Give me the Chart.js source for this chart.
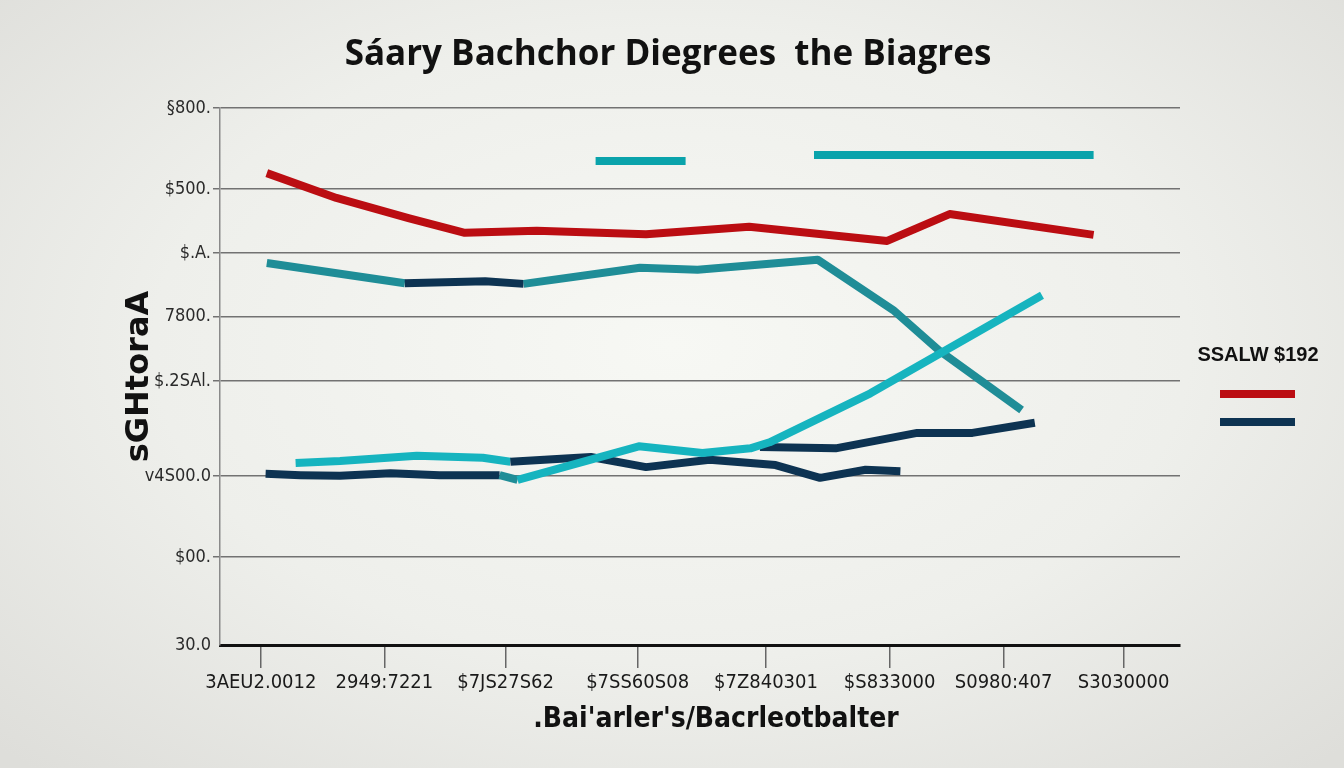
<!DOCTYPE html>
<html>
<head>
<meta charset="utf-8">
<script src="https://cdn.jsdelivr.net/npm/chart.js@4.4.1/dist/chart.umd.min.js"></script>
<style>
  html, body { margin: 0; padding: 0; }
  body {
    width: 1344px; height: 768px; overflow: hidden;
    background: radial-gradient(ellipse 70% 75% at 50% 45%, #f7f8f4 0%, #eeefeb 55%, #dededa 100%);
  }
  #wrap { position: relative; width: 1344px; height: 768px; }
</style>
</head>
<body>
<div id="wrap"><canvas id="c"></canvas></div>
<script>
// ---- Tick positions and labels ----
const xTickPos = [0.34, 1.37, 2.38, 3.48, 4.55, 5.58, 6.53, 7.53];
const xTickLabels = ["3AEU2.0012", "2949:7221", "$7JS27S62", "$7SS60S08", "$7Z840301", "$S833000", "S0980:407", "S3030000"];
const yTickVals = [0, 131, 252, 393, 489, 584, 679, 800];
const yTickLabels = ["30.0", "$00.", "v4S00.0", "$.2SAl.", "7800.", "$.A.", "$500.", "§800."];

// ---- Series ----
const redX = [0.39, 0.97, 1.57, 2.04, 2.64, 3.55, 4.41, 5.56, 6.08, 7.28];
const redY = [703, 666, 636, 614, 617, 612, 623, 602, 642, 611];

const tealX = [0.39, 1.54, 2.21, 2.53, 3.50, 3.98, 4.98, 5.61, 5.99, 6.68];
const tealY = [569, 539, 542, 538, 562, 559, 574, 499, 439, 350];

const barX = [3.13, 3.88, 4.40, 4.95, 7.28];
const barY = [721, 721, null, 730, 730];

const riseX = [0.38, 0.67, 1.00, 1.42, 1.83, 2.33, 2.48, 3.49, 4.02, 4.42, 4.58, 5.42, 6.85];
const riseY = [255, 253, 252, 256, 253, 253, 246, 296, 286, 293, 302, 375, 521];

const lowX = [0.63, 1.00, 1.64, 2.19, 2.42, 3.09, 3.55, 4.08, 4.63, 5.00, 5.38, 5.67];
const lowY = [271, 274, 282, 279, 273, 280, 265, 276, 268, 249, 261, 259];

const navyX = [4.50, 5.13, 5.81, 6.27, 6.79];
const navyY = [295, 293, 316, 316, 331];

const legendTitle = "SSALW $192";

// ---- Styling ----
const RED = '#bb0d12', TEAL = '#1f8d97', CYAN = '#16b4bf', NAVY = '#0d3352', BAR = '#0aa3ab';
const pts = (xs, ys) => xs.map((x, i) => ({ x, y: ys[i] }));
const lineBase = { borderWidth: 8, pointRadius: 0, tension: 0, borderCapStyle: 'butt', borderJoinStyle: 'round', fill: false, spanGaps: false };

const legendPlugin = {
  id: 'sideLegend',
  afterLayout(chart) {
    // shift the title block slightly right, as in the reference
    const t = chart.titleBlock;
    if (t) { t.left += 33; t.right += 33; }
    // shift the x-axis title slightly right as well
    const sx = chart.scales.x;
    if (sx && !sx._titleShifted) {
      const orig = sx.drawTitle;
      sx.drawTitle = function () {
        const l = this.left, r = this.right;
        this.left += 16; this.right += 16;
        orig.call(this);
        this.left = l; this.right = r;
      };
      sx._titleShifted = true;
    }
  },
  afterDraw(chart) {
    const { ctx, chartArea } = chart;
    const cx = chartArea.right + 78;
    ctx.save();
    ctx.fillStyle = '#111';
    ctx.font = 'bold 20px "Liberation Sans", Arial, sans-serif';
    ctx.textAlign = 'center';
    ctx.textBaseline = 'middle';
    ctx.fillText(legendTitle, cx, 355);
    ctx.lineWidth = 8;
    ctx.lineCap = 'butt';
    [[RED, 394], [NAVY, 422]].forEach(([c, y]) => {
      ctx.strokeStyle = c;
      ctx.beginPath();
      ctx.moveTo(cx - 38, y);
      ctx.lineTo(cx + 37, y);
      ctx.stroke();
    });
    ctx.restore();
  }
};

new Chart(document.getElementById('c'), {
  type: 'line',
  data: {
    datasets: [
      Object.assign({}, lineBase, {
        label: 'rise', data: pts(riseX, riseY), borderColor: CYAN,
        segment: { borderColor: c => c.p0DataIndex < 5 ? NAVY : (c.p0DataIndex === 5 ? TEAL : CYAN) }
      }),
      Object.assign({}, lineBase, {
        label: 'teal', data: pts(tealX, tealY), borderColor: TEAL,
        segment: { borderColor: c => (c.p0DataIndex === 1 || c.p0DataIndex === 2) ? NAVY : TEAL }
      }),
      Object.assign({}, lineBase, { label: 'navy', data: pts(navyX, navyY), borderColor: NAVY }),
      Object.assign({}, lineBase, {
        label: 'low', data: pts(lowX, lowY), borderColor: NAVY,
        segment: { borderColor: c => c.p0DataIndex < 4 ? CYAN : NAVY }
      }),
      Object.assign({}, lineBase, { label: 'red', data: pts(redX, redY), borderColor: RED }),
      Object.assign({}, lineBase, { label: 'bars', data: pts(barX, barY), borderColor: BAR })
    ]
  },
  options: {
    responsive: true,
    maintainAspectRatio: false,
    animation: false,
    layout: { padding: { left: 90, right: 164, top: 0, bottom: 0 } },
    plugins: {
      legend: { display: false },
      tooltip: { enabled: false },
      title: {
        display: true,
        text: 'Sáary Bachchor Diegrees  the Biagres',
        color: '#111',
        font: { family: '"Open Sans", Arial, sans-serif', size: 35, weight: 'bold', lineHeight: 1.2 },
        padding: { top: 34, bottom: 32 }
      }
    },
    scales: {
      x: {
        type: 'linear',
        min: 0, max: 8,
        afterBuildTicks: s => { s.ticks = xTickPos.map(v => ({ value: v })); },
        afterFit: s => { s.height = 123; },
        ticks: {
          autoSkip: false, maxRotation: 0, minRotation: 0, padding: 3,
          color: '#1a1a1a',
          font: { family: '"DejaVu Sans Condensed", "Liberation Sans Narrow", sans-serif', size: 20 },
          callback: (v, i) => xTickLabels[i]
        },
        grid: { drawOnChartArea: false, drawTicks: true, tickLength: 23, color: '#666', lineWidth: 1.5 },
        border: { display: true, color: '#111', width: 3 },
        title: {
          display: true,
          text: ".Bai'arler's/Bacrleotbalter",
          color: '#111',
          font: { family: '"Liberation Sans Narrow", "DejaVu Sans Condensed", sans-serif', size: 28, weight: 'bold', lineHeight: 1.0 },
          padding: { top: 0, bottom: 34 }
        }
      },
      y: {
        type: 'linear',
        min: 0, max: 800,
        afterBuildTicks: s => { s.ticks = yTickVals.map(v => ({ value: v })); },
        afterFit: s => { s.width = 130; },
        ticks: {
          autoSkip: false, padding: 2,
          color: '#2a2a2a',
          font: { family: '"DejaVu Sans Condensed", "Liberation Sans Narrow", sans-serif', size: 18 },
          callback: (v, i) => yTickLabels[i]
        },
        grid: {
          drawTicks: true, tickLength: 7, lineWidth: 1.5,
          color: c => (c.tick && c.tick.value === 0) ? 'rgba(0,0,0,0)' : '#727272'
        },
        border: { display: true, color: '#8a8a8a', width: 1.5 },
        title: {
          display: true,
          text: 'sGHtoraA',
          color: '#111',
          font: { family: '"DejaVu Sans", Arial, sans-serif', size: 32, weight: 'bold', lineHeight: 1.0 },
          padding: { top: 34, bottom: 0 }
        }
      }
    }
  },
  plugins: [legendPlugin]
});
</script>
</body>
</html>
